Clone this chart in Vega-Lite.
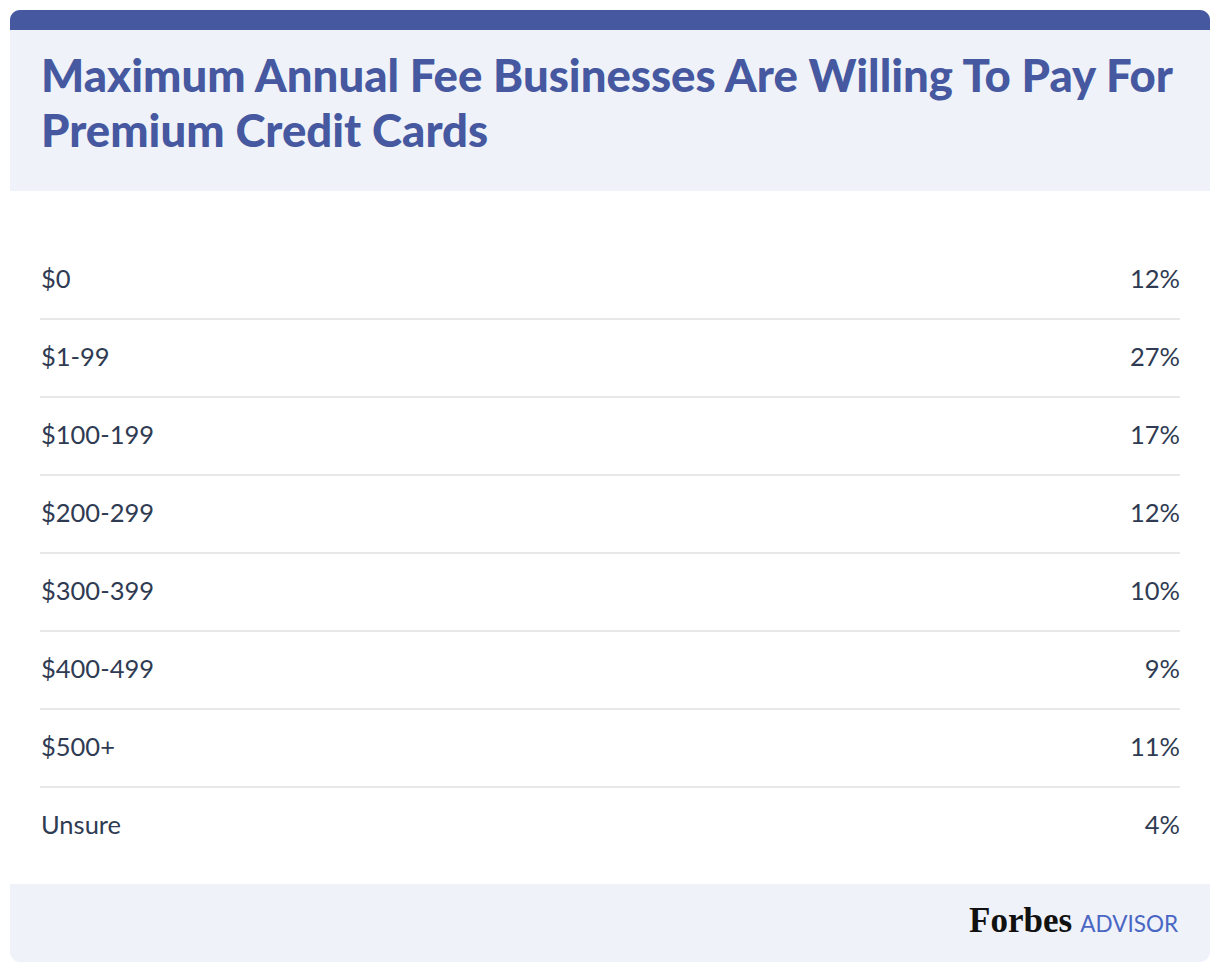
{
  "$schema": "https://vega.github.io/schema/vega-lite/v6.json",
  "width": 1220,
  "height": 972,
  "autosize": {"type": "fit", "contains": "padding"},
  "padding": 0,
  "background": "#ffffff",
  "config": {"view": {"stroke": null}},
  "data": {
    "values": [
      {"fee": "$0", "share": 0.12},
      {"fee": "$1-99", "share": 0.27},
      {"fee": "$100-199", "share": 0.17},
      {"fee": "$200-299", "share": 0.12},
      {"fee": "$300-399", "share": 0.10},
      {"fee": "$400-499", "share": 0.09},
      {"fee": "$500+", "share": 0.11},
      {"fee": "Unsure", "share": 0.04}
    ]
  },
  "layer": [
    {
      "data": {"values": [{}]},
      "mark": {"type": "rect", "color": "#4558a0", "cornerRadius": 10},
      "encoding": {
        "x": {"value": 10}, "x2": {"value": 1210},
        "y": {"value": 10}, "y2": {"value": 50}
      }
    },
    {
      "data": {"values": [{}]},
      "mark": {"type": "rect", "color": "#eff2f8"},
      "encoding": {
        "x": {"value": 10}, "x2": {"value": 1210},
        "y": {"value": 30}, "y2": {"value": 191}
      }
    },
    {
      "data": {"values": [{}]},
      "mark": {"type": "rect", "color": "#eff2f8", "cornerRadiusBottomLeft": 10, "cornerRadiusBottomRight": 10},
      "encoding": {
        "x": {"value": 10}, "x2": {"value": 1210},
        "y": {"value": 884}, "y2": {"value": 962}
      }
    },
    {
      "data": {"values": [{}]},
      "mark": {
        "type": "text", "font": "Lato", "fontWeight": 900, "fontSize": 45.5,
        "color": "#4558a0", "align": "left", "baseline": "alphabetic", "lineHeight": 55
      },
      "encoding": {
        "x": {"value": 41}, "y": {"value": 92},
        "text": {"value": ["Maximum Annual Fee Businesses Are Willing To Pay For", "Premium Credit Cards"]}
      }
    },
    {
      "transform": [{"filter": "datum.fee !== 'Unsure'"}],
      "mark": {"type": "rule", "color": "#e8e8e8", "strokeWidth": 2},
      "encoding": {
        "y": {"field": "fee", "type": "nominal", "sort": null, "bandPosition": 1, "axis": null,
              "scale": {"range": [241, 865], "paddingInner": 0, "paddingOuter": 0}},
        "x": {"value": 40}, "x2": {"value": 1180}
      }
    },
    {
      "mark": {"type": "text", "font": "Lato", "fontSize": 25.5, "color": "#2f3b52", "align": "left", "baseline": "middle"},
      "encoding": {
        "y": {"field": "fee", "type": "nominal", "sort": null, "axis": null},
        "x": {"value": 41},
        "text": {"field": "fee"}
      }
    },
    {
      "mark": {"type": "text", "font": "Lato", "fontSize": 25.5, "color": "#2f3b52", "align": "right", "baseline": "middle"},
      "encoding": {
        "y": {"field": "fee", "type": "nominal", "sort": null, "axis": null},
        "x": {"value": 1180},
        "text": {"field": "share", "type": "quantitative", "format": ".0%"}
      }
    },
    {
      "data": {"values": [{}]},
      "mark": {"type": "text", "font": "Liberation Serif", "fontWeight": "bold", "fontSize": 35, "color": "#111111", "align": "left", "baseline": "alphabetic"},
      "encoding": {"x": {"value": 969}, "y": {"value": 932}, "text": {"value": "Forbes"}}
    },
    {
      "data": {"values": [{}]},
      "mark": {"type": "text", "font": "Lato", "fontSize": 22.5, "color": "#4a66c4", "align": "right", "baseline": "alphabetic"},
      "encoding": {"x": {"value": 1178}, "y": {"value": 932}, "text": {"value": "ADVISOR"}}
    }
  ]
}
